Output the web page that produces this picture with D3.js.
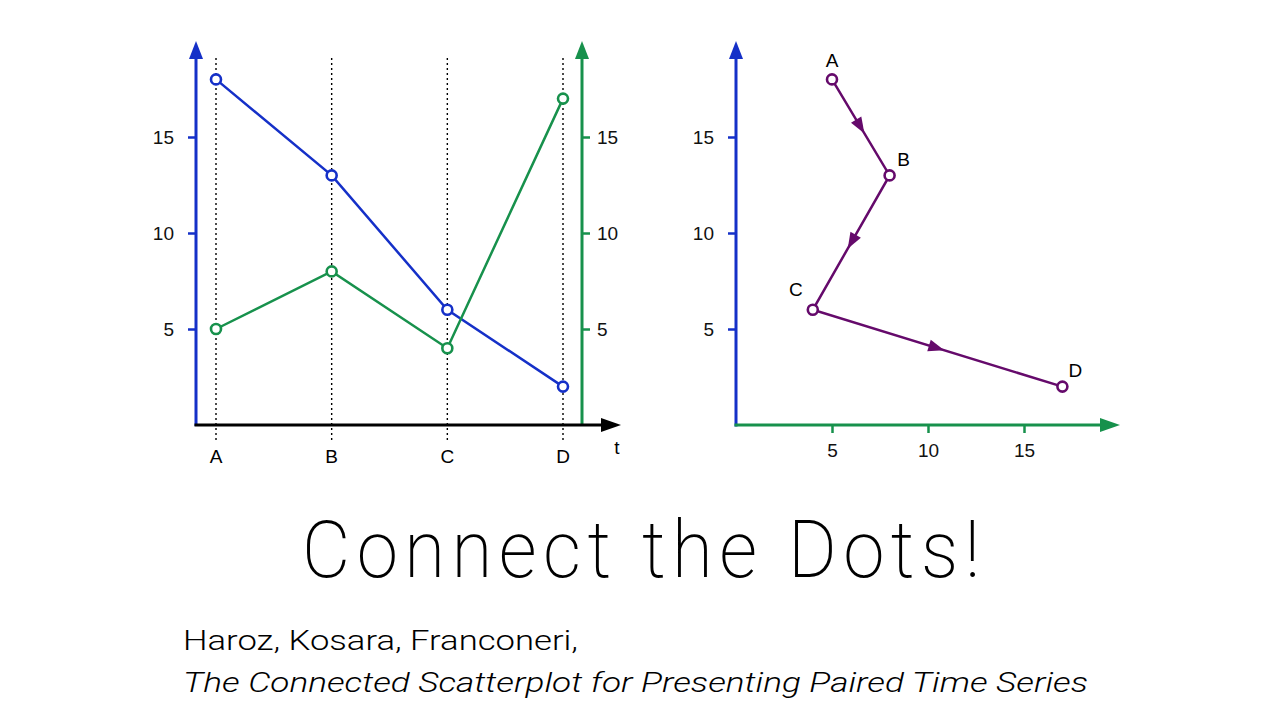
<!DOCTYPE html>
<html>
<head>
<meta charset="utf-8">
<script src="https://cdn.jsdelivr.net/npm/d3@7"></script>
<style>
  html, body { margin: 0; padding: 0; background: #fff; }
  svg { display: block; }
</style>
</head>
<body>
<script>
// Data
var times = ["A", "B", "C", "D"],
    blueValues = [18, 13, 6, 2],
    greenValues = [5, 8, 4, 17],
    tickValues = [5, 10, 15];

var blue = "#1530c8",
    green = "#17914c",
    purple = "#650a6b",
    labelFont = "'Liberation Sans', Arial, sans-serif",
    titleFont = "Roboto, 'Open Sans', sans-serif";

var svg = d3.select("body").append("svg")
    .attr("width", 1280)
    .attr("height", 720);

// Shared vertical scale for both charts
var y = d3.scaleLinear().domain([0, 20]).range([425, 41]);

// Draw a filled arrow head at (x, y) pointing in direction angle (deg)
function arrowHead(g, x, yy, angle, color, len, half) {
    g.append("path")
        .attr("d", "M0,0 L" + (-len) + "," + (-half) + " L" + (-len) + "," + half + " Z")
        .attr("transform", "translate(" + x + "," + yy + ") rotate(" + angle + ")")
        .style("fill", color);
}

// Restyle a d3 axis: no domain, coloured ticks, larger labels
function styleAxis(color) {
    return function (g) {
        g.select(".domain").remove();
        g.attr("font-family", null).attr("font-size", null);
        g.selectAll(".tick line").style("stroke", color).style("stroke-width", 2.5);
        g.selectAll(".tick text")
            .style("font-family", labelFont)
            .style("font-size", "19px")
            .style("fill", "#111");
    };
}

// ---------- Left chart: two time series ----------
var left = svg.append("g");
var xT = d3.scalePoint().domain(times).range([216, 563]);
var axisLeftX = 196, axisRightX = 582;

// dotted guides
left.selectAll("line.guide")
    .data(times)
    .enter().append("line")
    .attr("class", "guide")
    .attr("x1", function (d) { return xT(d); })
    .attr("x2", function (d) { return xT(d); })
    .attr("y1", 58)
    .attr("y2", 442)
    .style("stroke", "#000")
    .style("stroke-width", 1.4)
    .style("stroke-dasharray", "2,3");

// left blue axis
left.append("g")
    .attr("transform", "translate(" + axisLeftX + ",0)")
    .call(d3.axisLeft(y).tickValues(tickValues).tickSize(8).tickPadding(14))
    .call(styleAxis(blue));
left.append("line")
    .attr("x1", axisLeftX).attr("x2", axisLeftX)
    .attr("y1", y(0) + 1).attr("y2", 56)
    .style("stroke", blue).style("stroke-width", 3);
arrowHead(left, axisLeftX, 41, -90, blue, 18, 7);

// right green axis
left.append("g")
    .attr("transform", "translate(" + axisRightX + ",0)")
    .call(d3.axisRight(y).tickValues(tickValues).tickSize(8).tickPadding(7))
    .call(styleAxis(green));
left.append("line")
    .attr("x1", axisRightX).attr("x2", axisRightX)
    .attr("y1", y(0) + 1).attr("y2", 56)
    .style("stroke", green).style("stroke-width", 3);
arrowHead(left, axisRightX, 41, -90, green, 18, 7);

// time axis
left.append("line")
    .attr("x1", axisLeftX - 1.5).attr("x2", 604)
    .attr("y1", y(0)).attr("y2", y(0))
    .style("stroke", "#000").style("stroke-width", 3);
arrowHead(left, 621, y(0), 0, "#000", 20, 7);

left.selectAll("text.cat")
    .data(times)
    .enter().append("text")
    .attr("class", "cat")
    .attr("x", function (d) { return xT(d); })
    .attr("y", 463)
    .attr("text-anchor", "middle")
    .style("font-family", labelFont)
    .style("font-size", "19px")
    .text(function (d) { return d; });
left.append("text")
    .attr("x", 617).attr("y", 454)
    .attr("text-anchor", "middle")
    .style("font-family", labelFont)
    .style("font-size", "19px")
    .text("t");

var lineT = d3.line()
    .x(function (d, i) { return xT(times[i]); })
    .y(function (d) { return y(d); });

[[blueValues, blue], [greenValues, green]].forEach(function (s) {
    left.append("path")
        .datum(s[0])
        .attr("d", lineT)
        .style("fill", "none")
        .style("stroke", s[1])
        .style("stroke-width", 2.5);
    left.selectAll(null)
        .data(s[0])
        .enter().append("circle")
        .attr("cx", function (d, i) { return xT(times[i]); })
        .attr("cy", function (d) { return y(d); })
        .attr("r", 5)
        .style("fill", "#fff")
        .style("stroke", s[1])
        .style("stroke-width", 2.6);
});

// ---------- Right chart: connected scatterplot ----------
var right = svg.append("g");
var xS = d3.scaleLinear().domain([0, 20]).range([736, 1120]);
var originX = xS(0), originY = y(0);

right.append("g")
    .attr("transform", "translate(" + originX + ",0)")
    .call(d3.axisLeft(y).tickValues(tickValues).tickSize(8).tickPadding(14))
    .call(styleAxis(blue));
right.append("g")
    .attr("transform", "translate(0," + originY + ")")
    .call(d3.axisBottom(xS).tickValues(tickValues).tickSize(8).tickPadding(11))
    .call(styleAxis(green));
right.append("line")
    .attr("x1", originX).attr("x2", originX)
    .attr("y1", originY + 1.5).attr("y2", 56)
    .style("stroke", blue).style("stroke-width", 3);
arrowHead(right, originX, 41, -90, blue, 18, 7);
right.append("line")
    .attr("x1", originX - 1.5).attr("x2", 1102)
    .attr("y1", originY).attr("y2", originY)
    .style("stroke", green).style("stroke-width", 3);
arrowHead(right, 1120, originY, 0, green, 20, 7);

var pts = times.map(function (t, i) {
    return { t: t, x: xS(greenValues[i]), y: y(blueValues[i]) };
});

right.append("path")
    .datum(pts)
    .attr("d", d3.line().x(function (d) { return d.x; }).y(function (d) { return d.y; }))
    .style("fill", "none")
    .style("stroke", purple)
    .style("stroke-width", 2.5);

// direction arrows at segment midpoints
d3.pairs(pts).forEach(function (p) {
    var a = Math.atan2(p[1].y - p[0].y, p[1].x - p[0].x),
        mx = (p[0].x + p[1].x) / 2 + 7 * Math.cos(a),
        my = (p[0].y + p[1].y) / 2 + 7 * Math.sin(a);
    arrowHead(right, mx, my, a * 180 / Math.PI, purple, 16, 6);
});

right.selectAll("circle")
    .data(pts)
    .enter().append("circle")
    .attr("cx", function (d) { return d.x; })
    .attr("cy", function (d) { return d.y; })
    .attr("r", 5)
    .style("fill", "#fff")
    .style("stroke", purple)
    .style("stroke-width", 2.6);

var labelOffsets = { A: [0, -12], B: [14, -9], C: [-17, -14], D: [13, -10] };
right.selectAll("text.pt")
    .data(pts)
    .enter().append("text")
    .attr("class", "pt")
    .attr("x", function (d) { return d.x + labelOffsets[d.t][0]; })
    .attr("y", function (d) { return d.y + labelOffsets[d.t][1]; })
    .attr("text-anchor", "middle")
    .style("font-family", labelFont)
    .style("font-size", "19px")
    .text(function (d) { return d.t; });

// ---------- Titles ----------
// squeeze < 1 narrows the glyphs and widens the spacing to fill the width
function fittedText(x, yy, width, squeeze, size, weight, italic, str) {
    svg.append("text")
        .attr("transform", "translate(" + x + "," + yy + ") scale(" + squeeze + ",1)")
        .attr("textLength", width / squeeze)
        .attr("lengthAdjust", squeeze < 1 ? "spacing" : "spacingAndGlyphs")
        .style("font-family", titleFont)
        .style("font-weight", weight)
        .style("font-style", italic ? "italic" : "normal")
        .style("font-size", size + "px")
        .style("fill", "#000")
        .text(str);
}

fittedText(302, 577, 678, 0.93, 80, 200, false, "Connect the Dots!");
fittedText(183, 650, 395, 1, 28, 300, false, "Haroz, Kosara, Franconeri,");
fittedText(183, 692, 905, 1, 28, 300, true, "The Connected Scatterplot for Presenting Paired Time Series");
</script>
</body>
</html>
